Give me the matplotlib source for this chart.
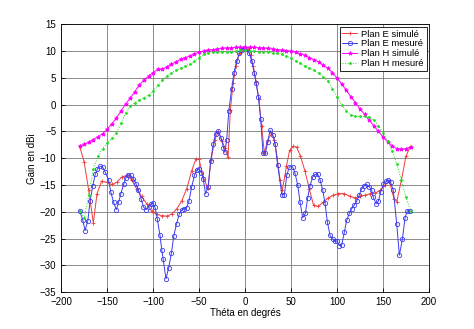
import matplotlib
matplotlib.use("Agg")
import matplotlib.pyplot as plt
import numpy as np

plt.rcParams["font.family"] = ["Liberation Sans", "DejaVu Sans"]

# Plan E simulé
theta_e_sim = [-180, -175, -170, -165, -161, -156, -150.5, -145, -139.5, -134, -128.5, -123,
               -118, -112.5, -107, -101.5, -96, -90.5, -85, -79.5, -74.5, -69, -63.5, -58,
               -53.5, -50, -45.5, -40.5, -37, -33, -29, -25, -22, -18.5, -16, -13, -10, -6,
               -3, 0, 3, 6, 9, 12, 15, 18, 21, 25, 29, 32, 35, 38, 40.5, 45, 48.5, 52.5, 56,
               60, 65, 70, 74.5, 79.5, 85, 90.5, 96, 101.5, 108, 114, 119.5, 125, 130.5, 136,
               141.5, 147, 152, 157, 162, 165, 170, 175, 179.5]
gain_e_sim = [-7.7, -10.7, -16.0, -22.1, -16.6, -14.3, -14.5, -14.9, -14.5, -13.5, -13.2, -14.1,
              -15.7, -17.1, -18.5, -19.9, -20.5, -20.7, -20.8, -20.4, -19.5, -18.0, -15.7, -12.3,
              -10.2, -10.2, -13.5, -15.6, -10.4, -6.5, -5.0, -6.8, -8.0, -9.8, -1.0, 4.0, 7.2, 9.6,
              10.4, 10.7, 10.4, 9.3, 7.2, 4.3, 1.0, -4.0, -9.0, -6.5, -5.3, -6.5, -10.0, -14.0, -16.0,
              -11.5, -8.5, -7.8, -7.9, -9.5, -12.3, -15.8, -18.8, -19.0, -18.2, -17.4, -16.9, -16.6,
              -16.6, -17.1, -17.4, -17.1, -16.9, -16.6, -16.5, -16.0, -15.0, -14.3, -17.6, -18.1,
              -14.1, -9.6, -7.9]

# Plan E mesuré
theta_e_mes = [-180, -176.5, -174, -171, -168.5, -165.5, -163, -160.5, -157.5, -155, -152, -148.5,
               -146, -143, -140, -137.5, -135, -132, -129.5, -127, -124.5, -121.5, -118.5, -116,
               -113, -110.5, -107.5, -105, -102.5, -100.5, -98, -95.5, -92.5, -90.5, -89, -86,
               -83, -80, -77.5, -74.5, -71.5, -69, -66, -63.5, -61, -58, -55, -52.5, -50, -47.5,
               -45.5, -43, -40, -37.5, -34.5, -32, -29, -26, -23.5, -22, -20, -17.7, -14.5, -12,
               -9, -6.2, -3.6, -1, 1.8, 4.3, 7.2, 9.8, 12, 14.5, 17, 19.5, 22, 24.6, 27.2, 30,
               32.6, 35.5, 40, 42.8, 45.3, 48.2, 51.8, 54.3, 57.3, 59.8, 62.7, 65.6, 68.1, 70.7,
               73.6, 76.1, 79, 81.5, 84.4, 87, 89.5, 92.4, 95.3, 97.8, 100.4, 102.5, 105.1, 108,
               110.5, 113.4, 116, 118.5, 121.4, 124.3, 126.8, 129.7, 132.2, 135.1, 137.7, 139.5,
               142.4, 145, 147.5, 150.4, 153.3, 155.8, 158.3, 161.2, 164.9, 167.8, 171.1, 174,
               176.5, 179.4]
gain_e_mes = [-19.8, -21.5, -23.5, -21.7, -17.9, -15.1, -13.0, -12.0, -11.5, -11.6, -12.6, -14.0,
              -16.3, -18.2, -19.6, -18.2, -16.6, -14.8, -13.6, -13.1, -13.2, -13.8, -14.8, -15.9,
              -17.6, -19.1, -19.6, -19.1, -18.6, -18.4, -19.1, -21.3, -24.4, -27.2, -28.9, -32.5,
              -30.4, -27.6, -24.5, -22.2, -20.4, -19.7, -19.4, -19.2, -18.0, -15.3, -13.2, -12.2,
              -12.0, -12.7, -13.8, -16.6, -15.3, -10.6, -7.3, -5.4, -5.0, -6.3, -8.0, -8.9, -6.6,
              -1.2, 3.0, 6.0, 8.2, 9.6, 10.3, 10.6, 10.4, 9.7, 8.2, 6.0, 4.0, 1.5, -2.7, -9.1, -9.1,
              -7.0, -4.8, -5.6, -7.3, -11.3, -16.8, -16.8, -13.2, -11.6, -11.6, -12.8, -15.0, -18.2,
              -21.1, -20.3, -17.4, -15.1, -13.5, -13.0, -13.0, -14.0, -15.9, -18.4, -21.9, -24.4,
              -25.1, -25.4, -25.5, -26.3, -26.2, -23.8, -21.6, -20.3, -19.4, -18.8, -18.0, -16.8,
              -15.7, -15.1, -14.9, -15.3, -16.0, -17.3, -18.5, -18.0, -16.3, -14.9, -14.3, -14.1,
              -14.5, -16.0, -22.2, -28.1, -25.1, -21.1, -19.8, -19.8]

# Plan H (5 degree sampling)
theta_h = np.arange(-180, 181, 5)
gain_h_sim = [-7.8, -7.4, -7.0, -6.5, -6.0, -5.4, -4.6, -3.6, -2.5, -1.2, 0.1, 1.2, 2.4, 3.7,
              4.6, 5.3, 6.0, 6.6, 6.6, 7.1, 7.6, 8.0, 8.5, 8.8, 9.1, 9.5, 9.8, 10.0, 10.2, 10.3,
              10.4, 10.5, 10.6, 10.6, 10.7, 10.7, 10.7, 10.7, 10.7, 10.6, 10.6, 10.5, 10.4, 10.3,
              10.2, 10.1, 10.0, 9.8, 9.5, 9.2, 8.8, 8.4, 8.0, 7.4, 6.8, 6.0, 5.0, 3.9, 2.7, 1.5,
              0.4, -0.8, -1.8, -2.9, -3.9, -5.0, -6.0, -6.9, -7.7, -8.2, -8.3, -8.2, -7.9]
gain_h_mes = [-19.8, -21.2, -16.8, -12.0, -9.6, -8.2, -7.2, -6.3, -5.3, -3.5, -1.6, -0.3, 0.4,
              0.9, 1.3, 1.8, 2.6, 3.6, 4.6, 5.4, 6.0, 6.4, 6.8, 7.2, 7.6, 8.1, 8.8, 9.4, 9.7, 9.8,
              9.8, 9.8, 9.9, 9.9, 10.0, 10.2, 10.3, 10.1, 10.0, 9.9, 9.9, 9.8, 9.7, 9.6, 9.4, 9.0,
              8.7, 8.2, 7.8, 7.2, 6.8, 6.4, 5.9, 5.2, 4.4, 3.0, 1.5, 0.0, -1.1, -1.9, -2.2, -2.2,
              -2.2, -2.3, -2.9, -3.9, -5.3, -6.8, -8.6, -11.0, -14.1, -17.3, -19.8]

fig = plt.figure(figsize=(4.74, 3.29), dpi=100)
ax = fig.add_axes([0.129, 0.112, 0.776, 0.814])

ax.plot(theta_e_sim, gain_e_sim, color="#f03c3c", lw=0.7, marker="+", ms=3, mew=0.6,
        label="Plan E simulé")
ax.plot(theta_e_mes, gain_e_mes, color="#3c3cf0", lw=0.7, marker="o", ms=3.1, mew=0.6,
        mfc="none", label="Plan E mesuré")
ax.plot(theta_h, gain_h_sim, color="#ff00ff", lw=0.7, marker="*", ms=3, mew=0.6,
        label="Plan H simulé")
ax.plot(theta_h, gain_h_mes, color="#22dd22", lw=0.7, ls=":", marker=".", ms=2,
        label="Plan H mesuré")

ax.set_xlim(-200, 200)
ax.set_ylim(-35, 15)
ax.set_xticks(np.arange(-200, 201, 50))
ax.set_yticks(np.arange(-35, 16, 5))
ax.tick_params(direction="in", labelsize=7, length=3, width=0.6)
ax.grid(True, color="#7a7a7a", lw=0.6)
for s in ax.spines.values():
    s.set_linewidth(0.6)

ax.set_xlabel("Théta en degrés", fontsize=7, labelpad=1)
ax.set_ylabel("Gain en dBi", fontsize=7, labelpad=2)

leg = ax.legend(loc="upper right", fontsize=6.8, fancybox=False, framealpha=1,
                edgecolor="black", borderaxespad=0.25, handlelength=1.6,
                handletextpad=0.4, labelspacing=0.1, borderpad=0.3)
leg.get_frame().set_linewidth(0.6)

fig.savefig("out.png", dpi=100)
